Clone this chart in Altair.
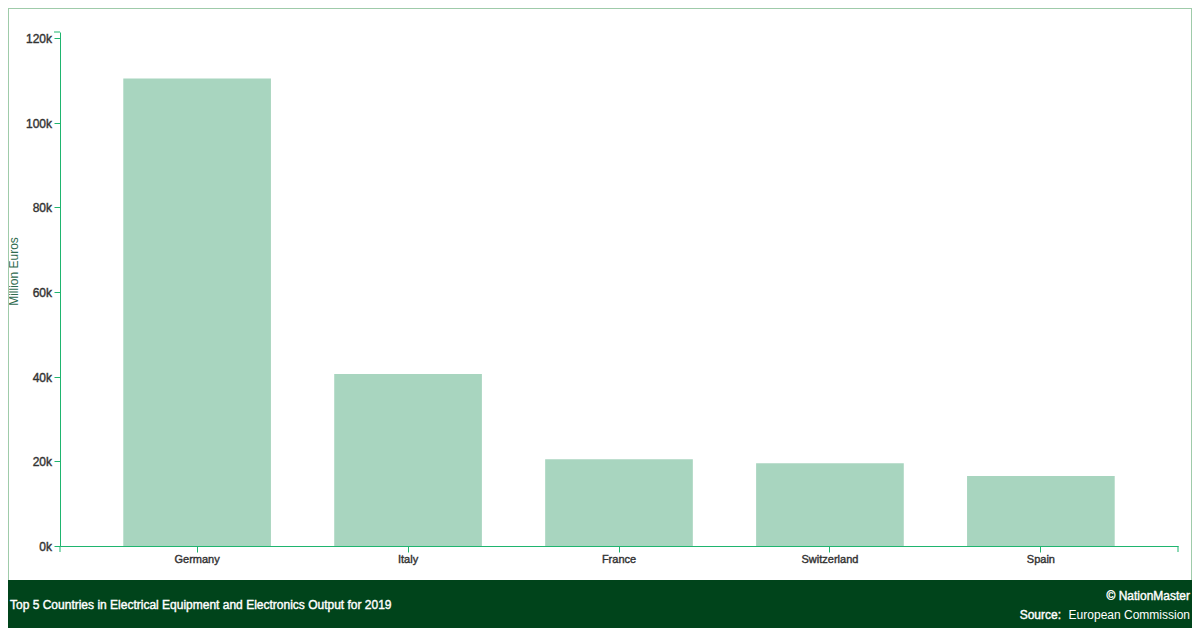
import altair as alt
import pandas as pd

countries = ["Germany", "Italy", "France", "Switzerland", "Spain"]
values = [110400, 40620, 20480, 19530, 16530]
y_ticks = [0, 20000, 40000, 60000, 80000, 100000, 120000]
y_title = "Million Euros"
caption = "Top 5 Countries in Electrical Equipment and Electronics Output for 2019"
brand = "© NationMaster"
source_label = "Source:"
source_name = "European Commission"

W, H = 1118, 514
LEFT, TOP = 52, 24
RIGHT = 14
FONT = "Liberation Sans"
AXIS = "#1fb56f"
DARK = "#00441b"
BORDER = "#9fcbaa"
INK = "#333333"

df = pd.DataFrame({"country": countries, "value": values})
tick_df = pd.DataFrame({"tick": y_ticks})
one = alt.Data(values=[{"k": 0}])

y_scale = alt.Scale(domain=[0, 121400], nice=False)
x_axis = alt.Axis(labels=False, domainColor=AXIS, tickColor=AXIS, tickSize=6, grid=False)
y_axis = alt.Axis(
    values=y_ticks,
    labels=False,
    domainColor=AXIS, tickColor=AXIS, tickSize=6, grid=False,
    titleFont=FONT, titleFontSize=12, titleFontWeight="normal", titleColor="#2f6b4f",
    titleX=-40, titleY=239, titleAngle=270,
)


def deco_rect(x, x2, y, y2, color):
    return alt.Chart(one).mark_rect(color=color).encode(
        x=alt.value(x), x2=alt.value(x2), y=alt.value(y), y2=alt.value(y2)
    )


def deco_rule(x, x2, y, y2, color=AXIS):
    return alt.Chart(one).mark_rule(color=color, strokeWidth=1).encode(
        x=alt.value(x), x2=alt.value(x2), y=alt.value(y), y2=alt.value(y2)
    )


def label(text, x, y, align="left", color="white", stroke=None):
    extra = {"stroke": stroke, "strokeWidth": 0.4} if stroke else {}
    return alt.Chart(alt.Data(values=[{"t": text}])).mark_text(
        font=FONT, fontSize=12, align=align, baseline="middle", color=color, **extra
    ).encode(x=alt.value(x), y=alt.value(y), text="t:N")


x_enc = alt.X(
    "country:N",
    sort=countries,
    title=None,
    scale=alt.Scale(paddingInner=0.3, paddingOuter=0.3),
    axis=x_axis,
)

bars = alt.Chart(df).mark_bar(color="#a8d5bf").encode(
    x=x_enc,
    y=alt.Y("value:Q", title=y_title, scale=y_scale, axis=y_axis),
)
x_labels = alt.Chart(df).mark_text(
    font=FONT, fontSize=11, color=INK, stroke=INK, strokeWidth=0.4, baseline="middle"
).encode(
    x=x_enc,
    y=alt.value(H + 13.5),
    text="country:N",
)
y_labels = alt.Chart(tick_df).transform_calculate(
    lab="datum.tick / 1000 + 'k'"
).mark_text(
    font=FONT, fontSize=12, color=INK, stroke=INK, strokeWidth=0.4, baseline="middle",
    align="right", dy=1,
).encode(
    x=alt.value(-8),
    y=alt.Y("tick:Q", title=y_title, scale=y_scale, axis=y_axis),
    text="lab:N",
)

fy = 572 - TOP
chart = alt.layer(
    deco_rect(-LEFT, W + RIGHT, fy, fy + 48, DARK),
    bars,
    x_labels,
    y_labels,
    # outer ticks at the axis ends
    deco_rule(0, 0, H, H + 6),
    deco_rule(W, W, H, H + 6),
    deco_rule(-6, 0, 0, 0),
    # thin page border
    deco_rule(-LEFT + 0.5, -LEFT + 0.5, -TOP, fy, BORDER),
    deco_rule(-LEFT, W + RIGHT, -TOP + 0.5, -TOP + 0.5, BORDER),
    deco_rule(W + RIGHT - 0.5, W + RIGHT - 0.5, -TOP, fy, BORDER),
    label(caption, -50, fy + 25, stroke="white"),
    label(brand, 1130, fy + 16, align="right", stroke="white"),
    label(source_name, 1130, fy + 35, align="right"),
    label(source_label, 1001, fy + 35, align="right", stroke="white"),
).properties(
    width=W,
    height=H,
    padding={"left": LEFT, "top": TOP, "right": RIGHT, "bottom": 620 - TOP - H},
    autosize=alt.AutoSizeParams(type="none", contains="content"),
    background="white",
).configure_view(stroke=None)

chart.save("out.html", embed_options={"renderer": "svg", "actions": False})
